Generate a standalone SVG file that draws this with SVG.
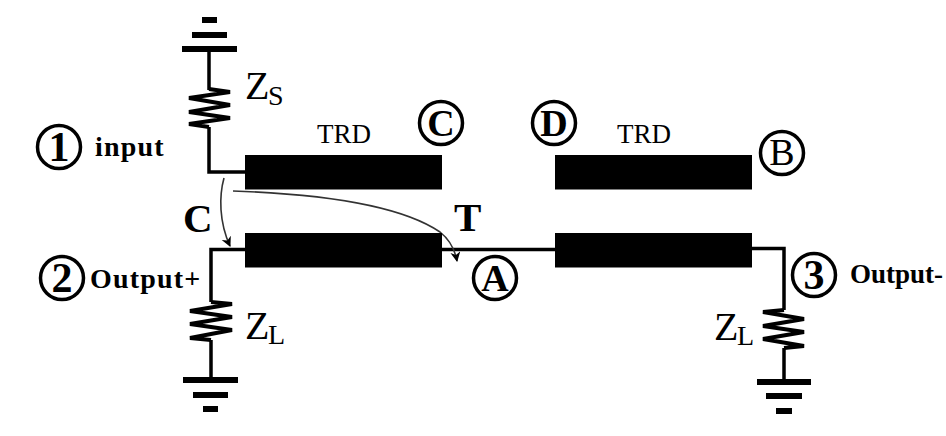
<svg xmlns="http://www.w3.org/2000/svg" width="946" height="436" viewBox="0 0 946 436">
<style>
text{font-family:"Liberation Serif","Times New Roman",serif;fill:#000}
.b{font-weight:bold}
.port{fill:#fff;stroke:#000;stroke-width:3.5}
.num{font-size:42px;text-anchor:middle}
.let{font-size:38px;text-anchor:middle}
.lab{font-size:28px;font-weight:bold;letter-spacing:1.2px}
.big{font-size:41px;font-weight:bold}
.trd{font-size:27px}
.z{font-size:40px}
.sub{font-size:28px}
.wire{fill:none;stroke:#000;stroke-width:3.5}
.res{fill:none;stroke:#000;stroke-width:4}
.flow{fill:none;stroke:#333;stroke-width:1.6}
</style>
<defs>
<marker id="ah" markerUnits="userSpaceOnUse" markerWidth="12" markerHeight="12" refX="9" refY="5" orient="auto">
<path d="M0 0L10 5L0 10L3 5Z" fill="#000"/>
</marker>
</defs>
<rect width="946" height="436" fill="#fff"/>
<g id="connectors">
<path class="wire" d="M209 49V90M209 127V172H245"/>
<path class="wire" d="M245 249.5H211V302M211 340V380"/>
<path class="wire" d="M442 249.5H555"/>
<path class="wire" d="M752 248.5H784V310M784 348V382"/>
<path class="flow" marker-end="url(#ah)" d="M224 178C219 196 219 222 230 246"/>
<path class="flow" marker-end="url(#ah)" d="M233 191C320 194 400 205 440 232C450 240 455 250 457 261"/>
</g>
<g id="trd-c"><rect x="245" y="155" width="197" height="34.500" fill="#000"/></g>
<g id="trd-a"><rect x="245" y="233" width="197" height="34.500" fill="#000"/></g>
<g id="trd-d"><rect x="555" y="155" width="197" height="34.500" fill="#000"/></g>
<g id="trd-b"><rect x="555" y="233" width="197" height="34.500" fill="#000"/></g>
<g id="trd-label-left"><text class="trd" x="317" y="143">TRD</text></g>
<g id="trd-label-right"><text class="trd" x="617" y="143">TRD</text></g>
<g id="ground-source">
<rect x="182" y="46" width="55" height="6"/><rect x="192" y="32" width="35" height="6"/><rect x="202" y="17" width="15" height="6"/>
</g>
<g id="ground-left">
<rect x="183" y="377" width="55" height="6"/><rect x="193" y="392" width="35" height="6"/><rect x="203" y="406" width="15" height="6"/>
</g>
<g id="ground-right">
<rect x="757" y="379" width="54" height="6"/><rect x="766" y="393" width="36" height="6"/><rect x="776" y="408" width="16" height="6"/>
</g>
<g id="res-zs">
<path class="res" d="M209 89L230 92L189 98L230 105L189 112L230 118L189 124L209 127"/>
<text class="z" x="245" y="99">Z</text><text class="sub" x="268" y="105">S</text>
</g>
<g id="res-zl-left">
<path class="res" d="M211 302L232 304L190 311L232 317L190 324L232 330L190 338L211 340"/>
<text class="z" x="245" y="339">Z</text><text class="sub" x="268" y="344">L</text>
</g>
<g id="res-zl-right">
<path class="res" d="M784 310L763 312L804 319L763 326L804 332L763 339L804 346L784 348"/>
<text class="z" x="714" y="340">Z</text><text class="sub" x="737" y="345">L</text>
</g>
<g id="port-1"><circle class="port" cx="59" cy="147" r="21.500"/><text class="num b" x="59" y="161">1</text><text class="lab" x="95" y="156">input</text></g>
<g id="port-2"><circle class="port" cx="62" cy="278" r="21.500"/><text class="num b" x="62" y="292">2</text><text class="lab" x="90" y="288">Output+</text></g>
<g id="port-3"><circle class="port" cx="814" cy="275" r="21.500"/><text class="num b" x="814" y="289">3</text><text class="lab" style="font-size:27px;letter-spacing:0" x="850" y="283">Output-</text></g>
<g id="port-a"><circle class="port" cx="495" cy="278" r="21.500"/><text class="let b" x="495" y="291">A</text></g>
<g id="port-b"><circle class="port" cx="782" cy="153" r="21.500"/><text class="let" x="782" y="165">B</text></g>
<g id="port-c"><circle class="port" cx="441" cy="123" r="21.500"/><text class="let b" x="441" y="136">C</text></g>
<g id="port-d"><circle class="port" cx="554" cy="123" r="21.500"/><text class="let b" x="554" y="136">D</text></g>
<g id="label-c"><text class="big" x="183" y="232">C</text></g>
<g id="label-t"><text class="big" x="454" y="231">T</text></g>
</svg>
